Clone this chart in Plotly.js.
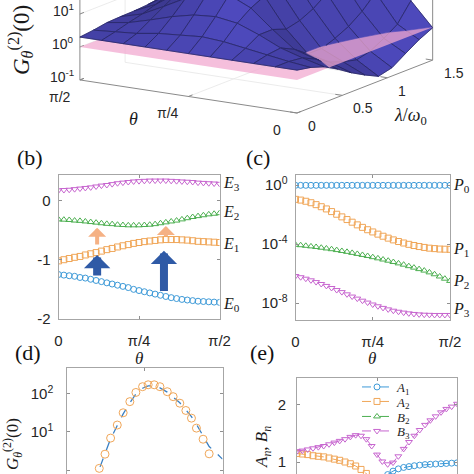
<!DOCTYPE html>
<html><head><meta charset="utf-8">
<script src="https://cdn.plot.ly/plotly-3.0.1.min.js"></script>
<style>html,body{margin:0;padding:0;width:474px;height:474px;overflow:hidden;background:#fff}#g{width:474px;height:474px}</style>
</head><body><div id="g"></div><script>
// ---------- data ----------
const thetaDeg = [0,3,6,9,12,15,18,21,24,27,30,33,36,39,42,45,48,51,54,57,60,63,66,69,72,75,78,81,84,87,90];
// (b) energies
const E0 = [-1.25,-1.26,-1.27,-1.28,-1.30,-1.31,-1.33,-1.35,-1.37,-1.39,-1.41,-1.43,-1.45,-1.47,-1.50,-1.52,-1.54,-1.56,-1.58,-1.60,-1.62,-1.64,-1.655,-1.67,-1.68,-1.69,-1.70,-1.705,-1.71,-1.715,-1.72];
const E1 = [-1.02,-1.00,-0.98,-0.96,-0.945,-0.92,-0.90,-0.88,-0.855,-0.83,-0.81,-0.785,-0.765,-0.745,-0.725,-0.71,-0.695,-0.685,-0.675,-0.665,-0.66,-0.66,-0.66,-0.665,-0.67,-0.68,-0.69,-0.695,-0.70,-0.705,-0.71];
const E2 = [-0.32,-0.325,-0.33,-0.34,-0.345,-0.355,-0.365,-0.375,-0.385,-0.395,-0.40,-0.41,-0.415,-0.42,-0.42,-0.42,-0.415,-0.41,-0.40,-0.385,-0.37,-0.355,-0.34,-0.32,-0.30,-0.28,-0.265,-0.25,-0.235,-0.225,-0.215];
const E3 = [0.17,0.175,0.18,0.19,0.20,0.21,0.22,0.235,0.25,0.26,0.275,0.29,0.30,0.31,0.32,0.325,0.33,0.335,0.335,0.335,0.335,0.33,0.325,0.32,0.315,0.31,0.30,0.295,0.29,0.285,0.28];
// (c) populations, log10 values
const P0log = [-0.02,-0.02,-0.02,-0.02,-0.02,-0.02,-0.02,-0.02,-0.02,-0.02,-0.02,-0.02,-0.02,-0.02,-0.02,-0.02,-0.02,-0.02,-0.02,-0.02,-0.02,-0.02,-0.02,-0.02,-0.02,-0.02,-0.02,-0.02,-0.02,-0.02,-0.02];
const P1log = [-0.97,-1.02,-1.10,-1.20,-1.33,-1.47,-1.62,-1.80,-1.98,-2.16,-2.34,-2.52,-2.70,-2.87,-3.03,-3.18,-3.33,-3.47,-3.60,-3.72,-3.83,-3.93,-4.02,-4.10,-4.17,-4.23,-4.28,-4.31,-4.34,-4.35,-4.36];
const P2log = [-4.05,-4.08,-4.12,-4.16,-4.20,-4.25,-4.30,-4.35,-4.41,-4.47,-4.53,-4.60,-4.67,-4.74,-4.81,-4.89,-4.97,-5.05,-5.13,-5.22,-5.31,-5.40,-5.50,-5.60,-5.70,-5.80,-5.92,-6.05,-6.20,-6.35,-6.50];
const P3log = [-6.17,-6.25,-6.35,-6.46,-6.58,-6.71,-6.84,-6.98,-7.12,-7.26,-7.41,-7.56,-7.70,-7.84,-7.97,-8.10,-8.22,-8.33,-8.43,-8.52,-8.59,-8.65,-8.70,-8.74,-8.77,-8.79,-8.80,-8.81,-8.81,-8.81,-8.81];
// (d) G2 vs theta (theta in units of pi/2), log10 values
const dCircFrac = [0.206,0.243,0.279,0.322,0.360,0.403,0.442,0.485,0.521,0.560,0.597,0.644,0.682,0.725,0.764,0.800,0.832,0.875,0.914];
const dCircLog  = [0.05,0.42,0.84,1.18,1.50,1.79,2.03,2.18,2.23,2.23,2.18,2.05,1.92,1.75,1.56,1.36,1.10,0.81,0.43];
const dLineFrac = [0.17,0.206,0.243,0.279,0.322,0.360,0.403,0.442,0.485,0.521,0.560,0.597,0.644,0.682,0.725,0.764,0.800,0.832,0.875,0.914,0.96,1.0];
const dLineLog  = [-0.35,0.03,0.42,0.82,1.17,1.47,1.76,1.99,2.14,2.20,2.20,2.15,2.04,1.92,1.76,1.58,1.40,1.20,0.90,0.62,0.45,0.29];
// (e) amplitudes
const A1 = [null,null,null,null,null,null,null,null,null,null,null,null,null,null,null,null,null,0.78,0.84,0.88,0.905,0.92,0.935,0.945,0.955,0.96,0.965,0.97,0.975,0.98,0.985];
const A2 = [1.15,1.14,1.13,1.11,1.10,1.09,1.07,1.05,1.03,1.00,0.97,0.93,0.87,0.80,0.72];
const B2 = [null];
const B3 = [1.19,1.20,1.22,1.24,1.26,1.28,1.31,1.34,1.37,1.40,1.44,1.47,1.46,1.40,1.28,1.13,1.01,0.96,0.99,1.10,1.23,1.35,1.46,1.56,1.65,1.73,1.80,1.87,1.93,1.97,2.02];
// (a) surface: log10 G2 on a grid, rows = theta, columns = lambda
const surfLambda = [0,0.15,0.3,0.45,0.6,0.75,0.9,1.05,1.2,1.35,1.5];
const surfThetaDeg = [0,9,18,27,36,45,54,63,72,81,90];
const surfLog = [
 [0.3,0.22,0.08,-0.15,-0.42,-0.65,-0.85,-0.75,-0.48,-0.22,-0.02],
 [0.3,0.3,0.25,0.05,-0.2,-0.35,-0.45,-0.35,-0.12,0.15,0.7],
 [0.3,0.4,0.45,0.25,-0.05,-0.05,0.1,0.3,0.6,1.0,1.5],
 [0.3,0.5,0.75,0.75,0.6,0.7,0.9,1.2,1.5,1.9,2.2],
 [0.3,0.6,1.0,1.3,1.5,1.6,1.8,2.0,2.3,2.5,2.7],
 [0.3,0.65,1.1,1.6,2.0,2.2,2.4,2.6,2.7,2.8,2.9],
 [0.3,0.6,1.05,1.55,2.1,2.3,2.5,2.6,2.7,2.8,2.8],
 [0.3,0.55,0.9,1.3,1.7,2.0,2.2,2.3,2.4,2.5,2.5],
 [0.3,0.45,0.7,0.95,1.2,1.45,1.65,1.8,1.9,2.0,2.0],
 [0.3,0.4,0.52,0.62,0.75,0.9,1.05,1.15,1.25,1.35,1.4],
 [0.3,0.35,0.42,0.44,0.45,0.48,0.55,0.62,0.7,0.8,0.9]
];
const planeLog = 0;              // reference plane G2 = 1
const lamTicks = [0,0.5,1,1.5];
const lamTickText = ['0','0.5','1','1.5'];
const zTicks = [-1,0,1];
const zTickText = ['10<sup>-1</sup>','10<sup>0</sup>','10<sup>1</sup>'];
const thetaTickText = ['0','π/4','π/2'];

// ---------- helpers ----------
const PI = Math.PI;
const rad = d => d*PI/180;
const theta = thetaDeg.map(rad);
const pow10 = a => a.map(v => v===null ? null : Math.pow(10,v));
const W = 474, H = 474;
const X = p => p/W, Y = p => 1 - p/H;
const sans = 'Liberation Sans, Arial, sans-serif';
const serif = 'Liberation Serif, Times New Roman, serif';
const cBlue='#3d9ad8', cOrange='#f0a658', cGreen='#4caf50', cMag='#c765cf';
function mk(sym,col,size){return {symbol:sym,size:size||6,color:col,line:{color:col,width:1}};}
const traces = [];

// ---------- (a) 3-D view drawn with an orthographic projection on a hidden 2-D axis ----------
const view = {az:32, el:14.1, edge:256, decade:34, u0:297, v0:113, zmin:-1, zmax:3};
const sA=Math.sin(rad(view.az)), cA=Math.cos(rad(view.az)), sE=Math.sin(rad(view.el)), cE=Math.cos(rad(view.el));
function proj(lam, th, L){
  const a = lam/1.5*view.edge, b = th/(PI/2)*view.edge, c = (L-view.zmin)*view.decade;
  return {u:view.u0 + sA*a - cA*b, v:view.v0 - cA*sE*a - sA*sE*b - cE*c, d:cA*cE*a + sA*cE*b - sE*c, a:a, b:b, c:c};
}
function lineTrace(segs,col,w){
  const xs=[],ys=[];
  segs.forEach(s=>{s.forEach(p=>{const q=proj(p[0],p[1],p[2]);xs.push(q.u);ys.push(q.v);});xs.push(null);ys.push(null);});
  return {type:'scatter',mode:'lines',x:xs,y:ys,xaxis:'x5',yaxis:'y5',line:{color:col,width:w},showlegend:false,hoverinfo:'skip'};
}
const thMax = PI/2, lamMax = 1.5;
const grid = [];
[PI/4].forEach(t=>grid.push([[0,t,-1],[lamMax,t,-1]]));
[0.5,1].forEach(l=>grid.push([[l,0,-1],[l,thMax,-1]]));
[0,1,2,3].forEach(z=>{grid.push([[0,thMax,z],[lamMax,thMax,z]]);grid.push([[lamMax,0,z],[lamMax,thMax,z]]);});
[0.5,1].forEach(l=>grid.push([[l,thMax,-1],[l,thMax,3]]));
[PI/4].forEach(t=>grid.push([[lamMax,t,-1],[lamMax,t,3]]));
traces.push(lineTrace(grid,'#e6e6e6',0.8));
const axl = [[[0,0,-1],[0,thMax,-1]],[[0,0,-1],[lamMax,0,-1]],[[0,thMax,-1],[0,thMax,3]],[[lamMax,0,-1],[lamMax,0,3]]];
[0,PI/4,thMax].forEach(t=>axl.push([[0,t,-1],[0.045,t,-1]]));
lamTicks.forEach(l=>axl.push([[l,0,-1],[l,0.05,-1]]));
zTicks.forEach(z=>axl.push([[0,thMax,z],[0.045,thMax,z]]));
traces.push(lineTrace(axl,'#8a8a8a',1));

const light = (()=>{const l=[-0.55,-0.35,0.75];const n=Math.hypot(...l);return l.map(v=>v/n);})();
const base=[74,70,180];
function clip(poly,sign){
  const out=[];const n=poly.length;
  for(let k=0;k<n;k++){
    const cur=poly[k],nxt=poly[(k+1)%n];
    const ci=sign*cur.L>=0, ni=sign*nxt.L>=0;
    if(ci) out.push(cur);
    if(ci!==ni){const t=cur.L/(cur.L-nxt.L);out.push({lam:cur.lam+t*(nxt.lam-cur.lam),th:cur.th+t*(nxt.th-cur.th),L:0,cut:true});}
  }
  return out;
}
const below=[],above=[];
const thS = surfThetaDeg.map(rad);
for(let i=0;i<thS.length-1;i++){
  for(let j=0;j<surfLambda.length-1;j++){
    const q=[{lam:surfLambda[j],th:thS[i],L:surfLog[i][j]},{lam:surfLambda[j+1],th:thS[i],L:surfLog[i][j+1]},
             {lam:surfLambda[j+1],th:thS[i+1],L:surfLog[i+1][j+1]},{lam:surfLambda[j],th:thS[i+1],L:surfLog[i+1][j]}];
    const P=q.map(p=>proj(p.lam,p.th,p.L));
    const d1=[P[2].a-P[0].a,P[2].b-P[0].b,P[2].c-P[0].c], d2=[P[3].a-P[1].a,P[3].b-P[1].b,P[3].c-P[1].c];
    let nv=[d1[1]*d2[2]-d1[2]*d2[1], d1[2]*d2[0]-d1[0]*d2[2], d1[0]*d2[1]-d1[1]*d2[0]];
    const nn=Math.hypot(...nv); nv=nv.map(v=>v/nn); if(nv[2]<0) nv=nv.map(v=>-v);
    const dot=Math.max(0,nv[0]*light[0]+nv[1]*light[1]+nv[2]*light[2]);
    const f=0.40+0.66*dot;
    const col='rgb('+base.map(v=>Math.min(255,Math.round(v*f))).join(',')+')';
    const qp=q.map(p=>Object.assign({},p,{L:p.L-planeLog}));
    [[below,-1],[above,1]].forEach(gs=>{
      const pc=clip(qp,gs[1]);
      if(pc.length>=3){
        const pts=pc.map(p=>Object.assign(proj(p.lam,p.th,p.L+planeLog),{cut:!!p.cut}));
        const depth=pts.reduce((s,p)=>s+p.d,0)/pts.length;
        gs[0].push({pts:pts,col:col,depth:depth});
      }
    });
  }
}
function pushPieces(arr){
  arr.sort((a,b)=>b.depth-a.depth);
  arr.forEach(pc=>{
    const xs=pc.pts.map(p=>p.u), ys=pc.pts.map(p=>p.v); xs.push(xs[0]); ys.push(ys[0]);
    traces.push({type:'scatter',mode:'lines',x:xs,y:ys,xaxis:'x5',yaxis:'y5',fill:'toself',fillcolor:pc.col,line:{color:pc.col,width:0.6},showlegend:false,hoverinfo:'skip'});
    const mx=[],my=[];const n=pc.pts.length;
    for(let k=0;k<n;k++){const p=pc.pts[k],r=pc.pts[(k+1)%n]; if(p.cut&&r.cut) continue; mx.push(p.u,r.u,null); my.push(p.v,r.v,null);}
    traces.push({type:'scatter',mode:'lines',x:mx,y:my,xaxis:'x5',yaxis:'y5',line:{color:'#22225a',width:0.7},showlegend:false,hoverinfo:'skip'});
  });
}
pushPieces(below);
(()=>{const c=[[0,0],[lamMax,0],[lamMax,thMax],[0,thMax],[0,0]].map(p=>proj(p[0],p[1],planeLog));
  traces.push({type:'scatter',mode:'lines',x:c.map(p=>p.u),y:c.map(p=>p.v),xaxis:'x5',yaxis:'y5',fill:'toself',fillcolor:'rgba(242,168,208,0.74)',line:{width:0,color:'rgba(0,0,0,0)'},showlegend:false,hoverinfo:'skip'});})();
pushPieces(above);

// ---------- (b) ----------
[[E0,'circle-open',cBlue],[E1,'square-open',cOrange],[E2,'triangle-up-open',cGreen],[E3,'triangle-down-open',cMag]].forEach(s=>{
  traces.push({type:'scatter',mode:'markers',x:theta,y:s[0],xaxis:'x',yaxis:'y',marker:mk(s[1],s[2]),showlegend:false,hoverinfo:'skip'});
});
// ---------- (c) ----------
[[P0log,'circle-open',cBlue],[P1log,'square-open',cOrange],[P2log,'triangle-up-open',cGreen],[P3log,'triangle-down-open',cMag]].forEach(s=>{
  traces.push({type:'scatter',mode:'markers',x:theta,y:pow10(s[0]),xaxis:'x2',yaxis:'y2',marker:mk(s[1],s[2]),showlegend:false,hoverinfo:'skip'});
});
// ---------- (d) ----------
traces.push({type:'scatter',mode:'lines',x:dLineFrac.map(f=>f*PI/2),y:pow10(dLineLog),xaxis:'x3',yaxis:'y3',line:{color:'#3a80c4',width:1.3,dash:'dash'},showlegend:false,hoverinfo:'skip'});
traces.push({type:'scatter',mode:'markers',x:dCircFrac.map(f=>f*PI/2),y:pow10(dCircLog),xaxis:'x3',yaxis:'y3',marker:mk('circle-open',cOrange,8),showlegend:false,hoverinfo:'skip'});
// ---------- (e) ----------
[[A1,'circle-open',cBlue,'<i>A</i><sub>1</sub>','legend'],[A2,'square-open',cOrange,'<i>A</i><sub>2</sub>','legend2'],[B2,'triangle-up-open',cGreen,'<i>B</i><sub>2</sub>','legend3'],[B3,'triangle-down-open',cMag,'<i>B</i><sub>3</sub>','legend4']].forEach(s=>{
  traces.push({type:'scatter',mode:'lines+markers',x:theta.slice(0,s[0].length),y:s[0],xaxis:'x4',yaxis:'y4',name:s[3],legend:s[4],
    marker:mk(s[1],s[2]),line:{color:s[2],width:1,dash:'dash'},showlegend:true,hoverinfo:'skip'});
});

const axBase = {showline:true,mirror:'ticks',linecolor:'#a6a6a6',linewidth:1,ticks:'inside',ticklen:3,tickcolor:'#909090',
  showgrid:false,zeroline:false,tickfont:{family:sans,size:15,color:'#262626'},fixedrange:true};
function ax(o){return Object.assign({},axBase,o);}
const thTicks = {tickmode:'array',tickvals:[0,PI/4,PI/2],ticktext:thetaTickText,range:[0,PI/2]};
function leg(py){return {x:X(357),y:Y(py),xanchor:'left',yanchor:'middle',bgcolor:'rgba(255,255,255,0)',borderwidth:0,font:{family:serif,size:13,color:'#262626'},itemwidth:30};}

const layout = {
  width:W,height:H,margin:{l:0,r:0,t:0,b:0},paper_bgcolor:'#ffffff',plot_bgcolor:'rgba(0,0,0,0)',
  font:{family:sans,size:14,color:'#262626'},
  xaxis5:{domain:[0,1],anchor:'y5',range:[0,474],visible:false,fixedrange:true},
  yaxis5:{domain:[Y(150),1],anchor:'x5',range:[150,0],visible:false,fixedrange:true},
  xaxis: ax(Object.assign({domain:[X(58.5),X(219.5)],anchor:'y',ticklabelstandoff:8},thTicks)),
  yaxis: ax({domain:[Y(319),Y(174.5)],anchor:'x',range:[-2,0.437],tickvals:[-2,-1,0],ticktext:['-2','-1','0'],ticklabelstandoff:4}),
  xaxis2: ax(Object.assign({domain:[X(295.5),X(450)],anchor:'y2',ticklabelstandoff:8},thTicks)),
  yaxis2: ax({domain:[Y(320),Y(175)],anchor:'x2',type:'log',range:[-9.15,0.68],tickvals:[1e-8,1e-4,1],ticktext:['10<sup>-8</sup>','10<sup>-4</sup>','10<sup>0</sup>'],ticklabelstandoff:4}),
  xaxis3: ax(Object.assign({domain:[X(67.3),X(222.5)],anchor:'y3',side:'top',mirror:false,showticklabels:false},thTicks)),
  yaxis3: ax({domain:[0,Y(368.3)],anchor:'x3',type:'log',range:[-0.097,2.66],tickvals:[1,10,100],ticktext:['10<sup>0</sup>','10<sup>1</sup>','10<sup>2</sup>'],ticklabelstandoff:10}),
  xaxis4: ax(Object.assign({domain:[X(297),X(457)],anchor:'y4',side:'top',mirror:false,showticklabels:false},thTicks)),
  yaxis4: ax({domain:[0,Y(377.5)],anchor:'x4',range:[0.79,2.48],tickvals:[1,2],ticktext:['1','2'],ticklabelstandoff:7}),
  showlegend:true,
  legend:leg(387), legend2:leg(401.5), legend3:leg(416.5), legend4:leg(431),
  annotations:[]
};
const A = layout.annotations;
function txt(t,px,py,o){A.push(Object.assign({text:t,xref:'paper',yref:'paper',x:X(px),y:Y(py),xanchor:'center',yanchor:'middle',showarrow:false,font:{family:serif,size:16,color:'#1a1a1a'}},o||{}));}
function tick3(t,lam,th,L,o){const p=proj(lam,th,L);A.push(Object.assign({text:t,xref:'x5',yref:'y5',x:p.u,y:p.v,xanchor:'center',yanchor:'middle',showarrow:false,font:{family:sans,size:14,color:'#262626'}},o));}
[0,PI/4,thMax].forEach((t,k)=>tick3(thetaTickText[k],0,t,-1,{xshift:-20,yshift:-17}));
lamTicks.forEach((l,k)=>tick3(lamTickText[k],l,0,-1,{xanchor:'left',xshift:9,yshift:-13}));
zTicks.forEach((z,k)=>tick3(zTickText[k],0,thMax,z,{xanchor:'right',xshift:-4,yshift:4}));
// panel labels
txt('(b)',30,157,{font:{family:serif,size:22,color:'#111'}});
txt('(c)',258,157,{font:{family:serif,size:22,color:'#111'}});
txt('(d)',28,352,{font:{family:serif,size:22,color:'#111'}});
txt('(e)',262,352,{font:{family:serif,size:22,color:'#111'}});
// axis titles
txt('<i>θ</i>',139,358,{font:{family:serif,size:17,color:'#1a1a1a'}});
txt('<i>θ</i>',372,358,{font:{family:serif,size:17,color:'#1a1a1a'}});
txt('<i>θ</i>',133,119,{font:{family:serif,size:18,color:'#1a1a1a'}});
txt('<i>λ</i>/<i>ω</i><sub>0</sub>',410,117,{font:{family:serif,size:18,color:'#1a1a1a'}});
// level labels
[['<i>E</i><sub>3</sub>',184],['<i>E</i><sub>2</sub>',213],['<i>E</i><sub>1</sub>',244],['<i>E</i><sub>0</sub>',304]].forEach(l=>txt(l[0],221,l[1],{xanchor:'left'}));
[['<i>P</i><sub>0</sub>',185],['<i>P</i><sub>1</sub>',249],['<i>P</i><sub>2</sub>',281],['<i>P</i><sub>3</sub>',309]].forEach(l=>txt(l[0],451,l[1],{xanchor:'left'}));
// y titles (rotated)
txt('<i>G</i><sub><i>θ</i></sub><sup>(2)</sup>(0)',12,472,{textangle:-90,yanchor:'bottom',font:{family:serif,size:17,color:'#1a1a1a'}});
txt('<i>A<sub>n</sub></i>, <i>B<sub>n</sub></i>',263,470,{textangle:-90,yanchor:'bottom',font:{family:serif,size:17,color:'#1a1a1a'}});
txt('<i>G</i><sub><i>θ</i></sub><sup>(2)</sup>(0)',20,77,{textangle:-90,yanchor:'bottom',font:{family:serif,size:23,color:'#1a1a1a'}});
// transition arrows
function arr(fx,tail,tip,col,w,s){A.push({xref:'x',yref:'y',axref:'x',ayref:'y',x:fx*PI/2,y:tip,ax:fx*PI/2,ay:tail,text:'',showarrow:true,arrowhead:1,arrowsize:s,arrowwidth:w,arrowcolor:col,standoff:0,startstandoff:0});}
arr(0.24,-1.29,-0.92,'#2f5aa6',8,0.55);
arr(0.655,-1.555,-0.85,'#2f5aa6',8,0.55);
arr(0.24,-0.77,-0.46,'#f5b184',4,0.75);
arr(0.667,-0.63,-0.43,'#f5b184',4,0.75);

Plotly.newPlot('g',traces,layout,{staticPlot:true,displayModeBar:false});
</script></body></html>
